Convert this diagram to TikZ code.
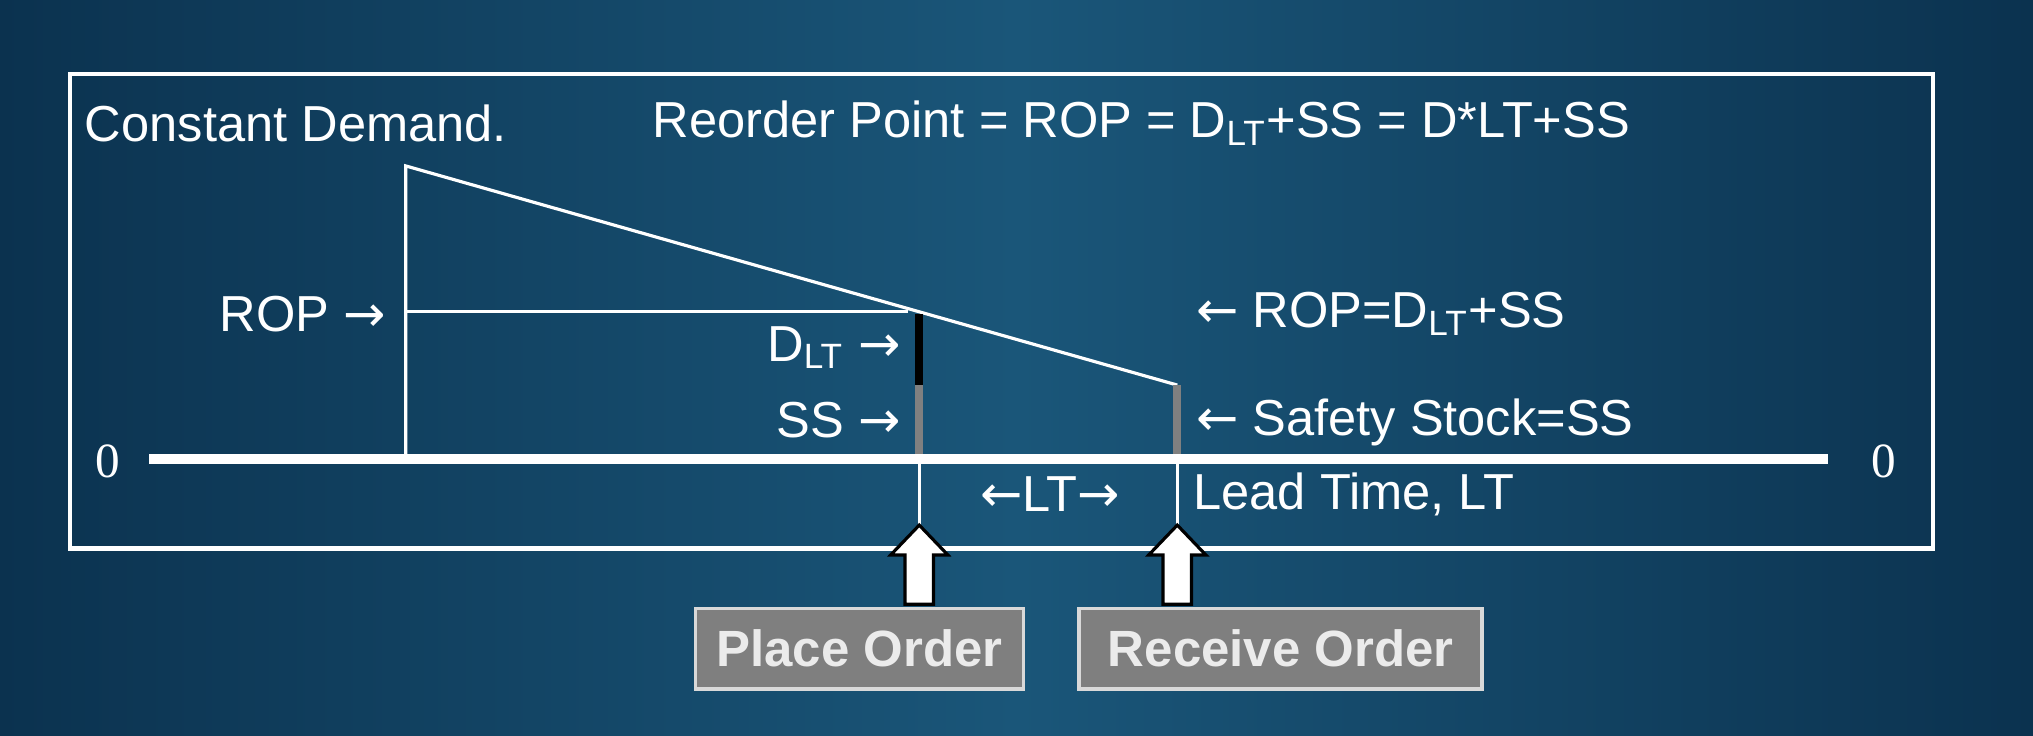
\documentclass[tikz,border=0pt]{standalone}
\usepackage{fontspec}
\setmainfont{Liberation Sans}
\newfontfamily\arrowfont{DejaVu Sans}
\usetikzlibrary{positioning,calc}
\definecolor{bgdark}{HTML}{0B324F}
\definecolor{bglight}{HTML}{1A5679}
\definecolor{boxgray}{HTML}{7F7F7F}
\newcommand{\ra}{{\arrowfont →}}
\newcommand{\la}{{\arrowfont ←}}
\tikzset{
  lbl/.style={text=white,font=\fontsize{14.4}{16}\selectfont,inner sep=0pt},
  zero/.style={text=white,font=\fontsize{14}{16}\selectfont\setmainfont{Liberation Serif}},
  wline/.style={white,line width=0.9pt},
  btn/.style={draw=white!85!black,fill=boxgray,line width=1pt,text=white!92!black,
              font=\bfseries\fontsize{14.5}{16}\selectfont,inner sep=0pt,minimum height=0.804cm},
  blockarrow/.style={fill=white,draw=black,line width=0.9pt,line join=miter},
}
\begin{document}
\begin{tikzpicture}[x=0.012966cm,y=-0.012966cm]
  % background
  \shade[left color=bgdark,right color=bgdark,middle color=bglight] (0,0) rectangle (1568,567);
  \useasboundingbox (0,0) rectangle (1568,567);
  % frame
  \draw[wline,line width=1.2pt] (54,57) rectangle (1491,423);
  % axis
  \coordinate (ax0) at (115,354);
  \coordinate (ax1) at (1410,354);
  \node[zero] (zl) at (83,356) {0};
  \node[zero] (zr) at (1453,356) {0};
  % curve points
  \coordinate (top) at (313,128);
  \coordinate (base) at (313,354);
  \coordinate (rop) at (313,240);
  \coordinate (hit) at (700,240);
  \coordinate (po) at (709,242);
  \coordinate (pomid) at (709,297);
  \coordinate (poaxis) at (709,354);
  \coordinate (pofoot) at (709,405);
  \coordinate (ro) at (908,297);
  \coordinate (roaxis) at (908,354);
  \coordinate (rofoot) at (908,405);
  \draw[wline] (base) -- (top) -- (ro);
  \draw[wline] (rop) -- (hit);
  \draw[black,line width=2.2pt] (po) -- (pomid);
  \draw[gray,line width=2.2pt] (pomid) -- (poaxis);
  \draw[gray,line width=2.2pt] (ro) -- (roaxis);
  \draw[wline] (poaxis) -- (pofoot);
  \draw[wline] (roaxis) -- (rofoot);
  \draw[white,line width=2.6pt] (ax0) -- (ax1);
  % labels
  \node[lbl,anchor=west] (cd) at (65,95) {Constant Demand.};
  \node[lbl,anchor=west] (formula) at (503,95) {Reorder Point = ROP = D\textsubscript{LT}+SS = D*LT+SS};
  \node[lbl,anchor=east] (ropl) at (298,242) {ROP \ra};
  \node[lbl,anchor=east] (dlt) at (695,268) {D\textsubscript{LT} \ra};
  \node[lbl,anchor=east] (ssl) at (695,324) {SS \ra};
  \node[lbl,anchor=west] (ropr) at (922,242) {\la{} ROP=D\textsubscript{LT}+SS};
  \node[lbl,anchor=west] (ssr) at (922,326) {\la{} Safety Stock=SS};
  \node[lbl] (lt) at (810,381) {\la LT\ra};
  \node[lbl,anchor=west] (lead) at (920,381) {Lead Time, LT};
  % block arrows
  \foreach \cx in {709,908}{
    \draw[blockarrow] (\cx,405) -- (\cx+22,428) -- (\cx+11,428) -- (\cx+11,466)
      -- (\cx-11,466) -- (\cx-11,428) -- (\cx-22,428) -- cycle;
  }
  % buttons
  \node[btn,minimum width=3.28cm,anchor=north west] (place) at (535,468) {Place Order};
  \node[btn,minimum width=4.03cm,anchor=north west] (receive) at (831,468) {Receive Order};
\end{tikzpicture}
\end{document}
